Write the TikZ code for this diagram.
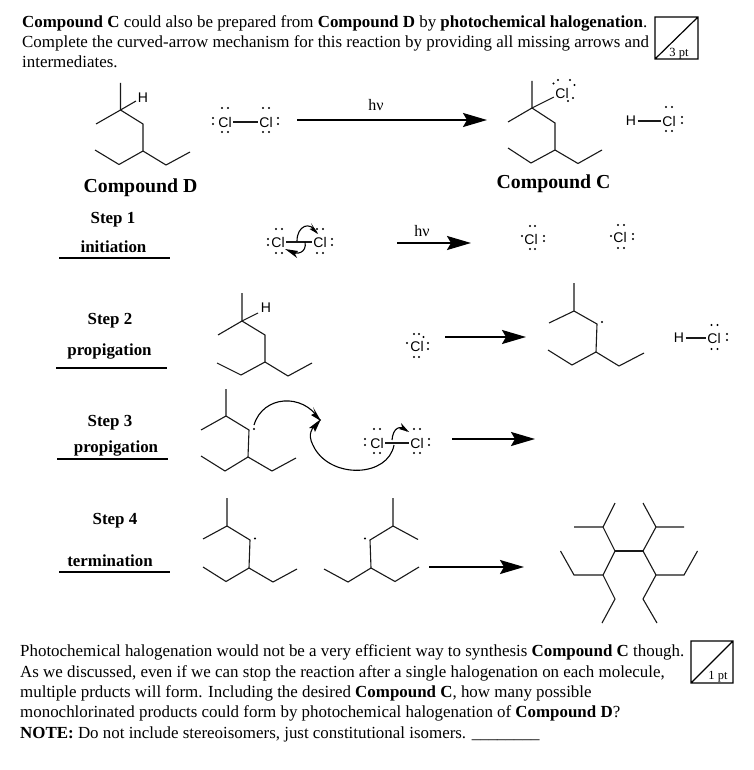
\documentclass[tikz,border=0pt]{standalone}
\usepackage{fontspec}
\setmainfont{Liberation Serif}
\newfontfamily\chemfont{Liberation Sans}
\usetikzlibrary{arrows.meta}
\newcommand{\elec}[2]{\fill (#1,#2) circle (1.05);}
% Cl atom: name, x, y
\newcommand{\clatom}[3]{\node[atom] (#1) at (#2,#3) {Cl};}
\newcommand{\pairstb}[2]{%
  \elec{#1-3}{#2-14}\elec{#1+3}{#2-14}\elec{#1-3}{#2+10}\elec{#1+3}{#2+10}}
\newcommand{\pairl}[2]{\elec{#1-12}{#2-4}\elec{#1-12}{#2+2}}
\newcommand{\pairr}[2]{\elec{#1+12}{#2-4}\elec{#1+12}{#2+2}}
\tikzset{
  bond/.style={line width=1.1pt,line join=miter,black!90},
  rxn/.style={line width=2pt,-{Stealth[length=24pt,width=14pt,inset=4pt]}},
  curly/.style={line width=1.1pt},
  atom/.style={font=\chemfont\fontsize{14}{14}\selectfont,inner sep=1.5pt,outer sep=0pt},
  body/.style={anchor=base west,inner sep=0pt,font=\fontsize{16.92}{16.92}\selectfont},
  steplabel/.style={anchor=base,inner sep=0pt,font=\bfseries\fontsize{16.9}{16.9}\selectfont},
  complabel/.style={anchor=base,inner sep=0pt,font=\bfseries\fontsize{19.8}{19.8}\selectfont},
  hv/.style={inner sep=0pt,font=\fontsize{16}{16}\selectfont},
  rule/.style={line width=1.6pt},
  ptbox/.style={line width=1.2pt},
  pts/.style={inner sep=0pt,font=\fontsize{12.5}{12.5}\selectfont}
}
\begin{document}
\begin{tikzpicture}[x=1pt,y=-1pt]
\useasboundingbox (0,0) rectangle (753,770);
\fill[white] (0,0) rectangle (753,770);
% header text
\node[body] (t1) at (22,28) {\textbf{Compound C} could also be prepared from \textbf{Compound D} by \textbf{photochemical halogenation}.};
\node[body] (t2) at (22,48) {Complete the curved-arrow mechanism for this reaction by providing all missing arrows and};
\node[body] (t3) at (22,68) {intermediates.};
\draw[ptbox] (655,17) rectangle (698,59) (655,59) -- (698,17);
\node[pts] (p3) at (679,54) {3 pt};
% Compound D
\draw[bond] (120.5,83) -- (120.5,110) -- (143,124) -- (143,151) -- (119,164.5) -- (95,150);
\draw[bond] (96,124) -- (120.5,110) -- (136,101);
\draw[bond] (143,151) -- (166,165) -- (190,152);
\node[atom] (hd) at (143,98) {H};
\clatom{cla}{225}{122}\clatom{clb}{266}{122}
\draw[bond] (cla) -- (clb);
\pairstb{225}{122}\pairl{225}{122}\pairstb{266}{122}\pairr{266}{122}
\coordinate (a1s) at (297,120); \coordinate (a1e) at (487,120);
\draw[rxn] (a1s) -- (a1e);
\node[hv] (hv1) at (376,105) {hν};
\node[complabel] (cd) at (140.5,193) {Compound D};
% Compound C
\draw[bond] (532,81) -- (532,108) -- (555,123) -- (555,150) -- (531,163) -- (508,148);
\draw[bond] (508,122) -- (532,108);
\draw[bond] (555,150) -- (578,163.5) -- (602,150);
\clatom{clc}{562}{93}
\draw[bond] (532,108) -- (clc);
\elec{558}{80}\elec{553.5}{83.5}\elec{570}{80}\elec{574.5}{85}\elec{573}{98}\elec{568}{101}
\node[atom] (h1) at (631,121) {H};
\clatom{cl1}{669}{121}
\draw[bond] (h1) -- (cl1);
\pairstb{669}{121}\elec{682}{117}\elec{682}{123}
\node[complabel] (cc) at (553.5,189) {Compound C};
% Step 1
\node[steplabel] (s1) at (113,223) {Step 1};
\node[steplabel] (s1b) at (113.5,252) {initiation};
\draw[rule] (59,258) -- (170,258);
\clatom{cl2}{278}{242}\clatom{cl3}{320}{242}
\draw[bond] (cl2) -- (cl3);
\pairstb{279}{243}\pairl{280}{243}\pairstb{320}{243}\pairr{320}{243}
\draw[curly] (297,241) .. controls (297,226) and (310,220) .. (317,233);
\fill (318,234) -- (311,223) -- (313,228) -- (309.5,229) -- cycle;
\draw[curly] (305,242) .. controls (307,252) and (298,256) .. (289,251);
\fill (285,249) -- (297,258) -- (295,254) -- (298,251) -- cycle;
\coordinate (a2s) at (397,243); \coordinate (a2e) at (471,243);
\draw[rxn] (a2s) -- (a2e);
\node[hv] (hv2) at (422,231) {hν};
\clatom{cl4}{531}{239}
\elec{530}{226}\elec{535}{226}\elec{530}{249}\elec{535}{249}\elec{522}{236}\elec{544}{236}\elec{544}{241}
\clatom{cl5}{620}{237}
\elec{618}{225}\elec{624}{225}\elec{618}{248}\elec{624}{248}\elec{611}{236}\elec{633}{234}\elec{633}{239}
% Step 2
\node[steplabel] (s2) at (110,324) {Step 2};
\node[steplabel] (s2b) at (109.5,355) {propigation};
\draw[rule] (56,368) -- (167,368);
\draw[bond] (242,293) -- (242,321) -- (265,335) -- (265,362) -- (241,375) -- (217,363);
\draw[bond] (218,335) -- (242,321) -- (258,313);
\draw[bond] (265,362) -- (288,376) -- (312,363);
\node[atom] (hs2) at (266,308) {H};
\clatom{cl6}{417}{346}
\elec{414}{334}\elec{419}{334}\elec{414}{357}\elec{419}{357}\elec{407}{343}\elec{423.5}{337}\elec{428}{343}\elec{428}{349}
\coordinate (a3s) at (445,337); \coordinate (a3e) at (526,337);
\draw[rxn] (a3s) -- (a3e);
\draw[bond] (574,283) -- (574,311) -- (597,324) -- (596,352) -- (572,365) -- (548,350);
\draw[bond] (549,323) -- (574,311);
\draw[bond] (596,352) -- (619,366) -- (644,353);
\elec{602}{322}
\node[atom] (h2) at (679,338) {H};
\clatom{cl7}{714}{338}
\draw[bond] (h2) -- (cl7);
\pairstb{714.5}{339}\elec{727}{334}\elec{727}{340}
% Step 3
\node[steplabel] (s3) at (110,426) {Step 3};
\node[steplabel] (s3b) at (116,452) {propigation};
\draw[rule] (57,459) -- (168,459);
\draw[bond] (226,389) -- (226,416) -- (249,430) -- (248,457) -- (225,471) -- (201,456);
\draw[bond] (201,430) -- (226,416);
\draw[bond] (248,457) -- (272,471) -- (296,458);
\elec{254}{429}
\draw[curly] (254,425) .. controls (263,395) and (303,393) .. (319,419);
\fill (321,421) -- (313,407) -- (315,413) -- (311,415) -- cycle;
\draw[curly] (394,445) .. controls (388,477) and (333,479) .. (315,449) .. controls (308,437) and (309,431) .. (317,423);
\fill (321,419) -- (309,428) -- (313.5,428) -- (315,432) -- cycle;
\clatom{cl8}{377}{443}\clatom{cl9}{417}{443}
\draw[bond] (cl8) -- (cl9);
\pairstb{377}{443}\pairl{377}{443}\pairstb{417}{443}\pairr{417}{443}
\draw[curly] (392,440) .. controls (393,428) and (400,424) .. (407,431);
\fill (409,432) -- (401,423) -- (402,427) -- (399,429) -- cycle;
\coordinate (a4s) at (452,439); \coordinate (a4e) at (535,439);
\draw[rxn] (a4s) -- (a4e);
% Step 4
\node[steplabel] (s4) at (115,524) {Step 4};
\node[steplabel] (s4b) at (110,566) {termination};
\draw[rule] (59,572) -- (170,572);
\draw[bond] (227,498) -- (227,526) -- (250,540) -- (249,568) -- (226,581.5) -- (203,567);
\draw[bond] (203,539) -- (227,526);
\draw[bond] (249,568) -- (273,582) -- (297,569);
\elec{255}{538.5}
\draw[bond] (393,498) -- (393,526) -- (370,540) -- (371,568) -- (395,581.5) -- (419,567);
\draw[bond] (418,539.5) -- (393,526);
\draw[bond] (371,568) -- (348,582) -- (324,569);
\elec{365}{538.5}
\coordinate (a5s) at (429,567); \coordinate (a5e) at (524,567);
\draw[rxn] (a5s) -- (a5e);
% dimer
\draw[bond] (615,551) -- (643,551);
\draw[bond] (574,527) -- (603,527) -- (615,551) -- (603,575) -- (574,575) -- (560.5,551);
\draw[bond] (615,503) -- (603,527);
\draw[bond] (603,575) -- (615,599) -- (602,623);
\draw[bond] (684,527) -- (656,527) -- (643,551) -- (656,575) -- (684,575) -- (697.5,551);
\draw[bond] (643,503) -- (656,527);
\draw[bond] (656,575) -- (643,599) -- (657,623);
% footer text
\node[body] (b1) at (20,656) {Photochemical halogenation would not be a very efficient way to synthesis \textbf{Compound C} though.};
\node[body] (b2) at (20,677) {As we discussed, even if we can stop the reaction after a single halogenation on each molecule,};
\node[body] (b3) at (20,697) {multiple prducts will form. Including the desired \textbf{Compound C}, how many possible};
\node[body] (b4) at (20,717) {monochlorinated products could form by photochemical halogenation of \textbf{Compound D}?};
\node[body] (b5) at (20,738) {\textbf{NOTE:} Do not include stereoisomers, just constitutional isomers. \_\_\_\_\_\_\_\_};
\draw[ptbox] (691,641) rectangle (733,683) (691,683) -- (733,641);
\node[pts] (p1) at (718,677) {1 pt};
\end{tikzpicture}
\end{document}
